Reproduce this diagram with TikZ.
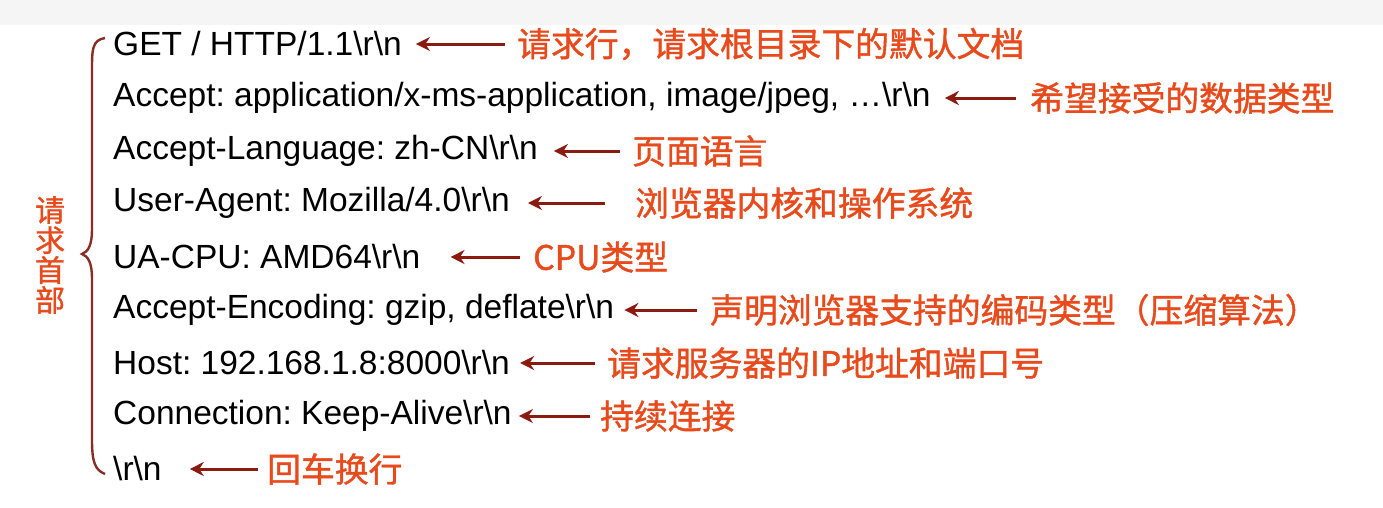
\documentclass[tikz,border=0pt]{standalone}
\usepackage{fontspec}
\setmainfont{Liberation Sans}
\newfontfamily\cjk[FakeBold=1.2]{Noto Sans CJK SC}
\usetikzlibrary{arrows.meta}
\definecolor{arrred}{HTML}{8B1A10}
\definecolor{lblred}{HTML}{E84A1C}
\frenchspacing
\begin{document}
\begin{tikzpicture}[x=1pt,y=-1pt,
  txt/.style={anchor=west,inner sep=0pt,font=\fontsize{33.5}{38}\selectfont},
  lbl/.style={anchor=west,inner sep=0pt,text=lblred,font=\cjk\fontsize{33.8}{36}\selectfont},
  arr/.style={draw=arrred,line width=3pt,-{Stealth[length=14pt,width=14pt]}}]
\useasboundingbox (0,0) rectangle (1383,507);
\fill[gray!8] (0,0) rectangle (1383,25);
\foreach \i/\y/\t in {1/44/{GET / HTTP/1.1\textbackslash r\textbackslash n},
  2/98/{Accept: application/x-ms-application, image/jpeg, …\textbackslash r\textbackslash n},
  3/151/{Accept-Language: zh-CN\textbackslash r\textbackslash n},
  4/203/{User-Agent: Mozilla/4.0\textbackslash r\textbackslash n},
  5/257/{UA-CPU: AMD64\textbackslash r\textbackslash n},
  6/310/{Accept-Encoding: gzip, deflate\textbackslash r\textbackslash n},
  7/363/{Host: 192.168.1.8:8000\textbackslash r\textbackslash n},
  8/416/{Connection: Keep-Alive\textbackslash r\textbackslash n},
  9/469/{\textbackslash r\textbackslash n}}
  \node[txt] (t\i) at (113,\y) {\t};
\node[lbl] (l1) at (517,44) {请求行，请求根目录下的默认文档};
\node[lbl] (l2) at (1030,98) {希望接受的数据类型};
\node[lbl] (l3) at (632,151) {页面语言};
\node[lbl] (l4) at (635,203) {浏览器内核和操作系统};
\node[lbl] (l5) at (533,257) {CPU类型};
\node[lbl] (l6) at (710,310) {声明浏览器支持的编码类型（压缩算法）};
\node[lbl] (l7) at (607,363) {请求服务器的IP地址和端口号};
\node[lbl] (l8) at (600,416) {持续连接};
\node[lbl] (l9) at (267,469) {回车换行};
\foreach \i/\a/\b in {1/12/14,2/14/14,3/12/16,4/30/18,5/13/30,6/13/10,7/12/10,8/10/7,9/9/28}
  \draw[arr] ([xshift=-\a pt]l\i.west) -- ([xshift=\b pt]t\i.east);
\draw[arrred!80!gray,line width=2.4pt] (105,38) .. controls (92,40) and (92,50) .. (92,70)
  -- (92,230) .. controls (92,245) and (88,252) .. (82,254)
  .. controls (88,256) and (92,263) .. (92,278) -- (92,440)
  .. controls (92,462) and (95,470) .. (105,474);
\node[anchor=center,text=lblred,font=\cjk\fontsize{30}{32}\selectfont,align=center,inner sep=0pt] (side) at (50,255) {请\\[-2pt]求\\[-2pt]首\\[-2pt]部};
\end{tikzpicture}
\end{document}
